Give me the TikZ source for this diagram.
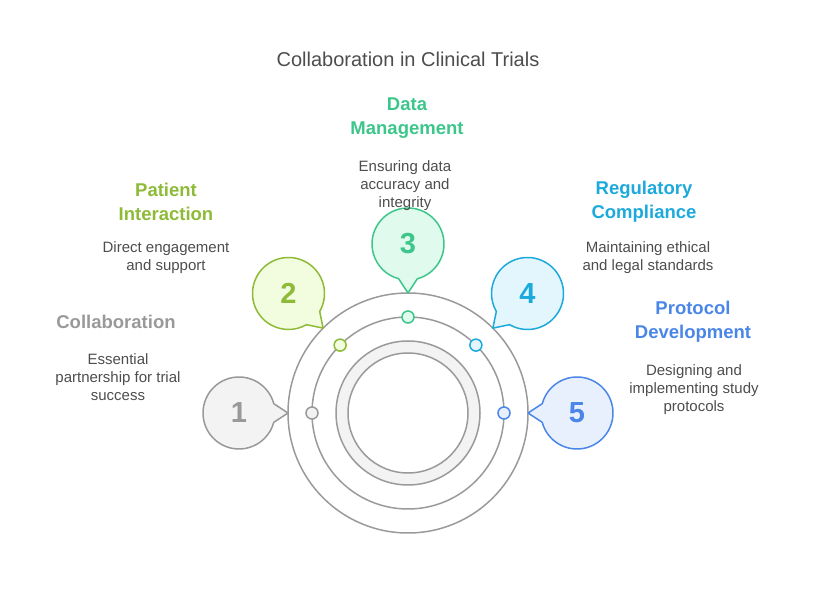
\documentclass[tikz,border=0pt]{standalone}
\usepackage{fontspec}
\setmainfont{Liberation Sans}
\usetikzlibrary{calc}
\definecolor{cgray}{HTML}{999999}
\definecolor{cgrayf}{HTML}{F3F3F3}
\definecolor{cyg}{HTML}{8DBB38}
\definecolor{cygf}{HTML}{F2FCDF}
\definecolor{cgr}{HTML}{3CC68A}
\definecolor{cgrf}{HTML}{E0FAEE}
\definecolor{ccy}{HTML}{1CA9DB}
\definecolor{ccyf}{HTML}{E3F6FD}
\definecolor{cbl}{HTML}{4A86E8}
\definecolor{cblf}{HTML}{E9F0FD}
\definecolor{ctext}{HTML}{4D4D4D}
\definecolor{cline}{HTML}{9A9A9A}
\tikzset{
  heading/.style={font=\fontsize{18.5}{24}\selectfont\bfseries, align=center, inner sep=0pt},
  desc/.style={font=\fontsize{15}{18}\selectfont, text=ctext, align=center, inner sep=0pt},
  ringline/.style={draw=cline, line width=1.5pt},
  numtext/.style={font=\fontsize{29}{29}\selectfont\bfseries, inner sep=0pt},
  dotnode/.style={circle, minimum size=12pt, inner sep=0pt, line width=1.5pt}
}
\begin{document}
\begin{tikzpicture}[x=1pt,y=1pt]
\useasboundingbox (0,0) rectangle (816,594);
\coordinate (C) at (408,181);
% title
\node[font=\fontsize{20}{24}\selectfont, text=ctext, inner sep=0pt] (title) at (408,535) {Collaboration in Clinical Trials};
% circles
\draw[ringline] (C) circle[radius=120];
\draw[ringline] (C) circle[radius=96];
\path[fill=cgrayf, even odd rule] (C) circle[radius=72] (C) circle[radius=60];
\draw[ringline] (C) circle[radius=72];
\draw[ringline] (C) circle[radius=60];
% bubbles
\foreach \a/\c/\f/\n in {180/cgray/cgrayf/1, 135/cyg/cygf/2, 90/cgr/cgrf/3, 45/ccy/ccyf/4, 0/cbl/cblf/5}{
  \path (C) ++(\a:169) coordinate (B\n);
  \path (C) ++(\a:120) coordinate (T\n);
  \draw[draw=\c, fill=\f, line width=1.5pt, line join=round]
    ($(B\n)+(\a+195:36)$) arc[start angle=\a+195, delta angle=330, radius=36] -- (T\n) -- cycle;
  \node[numtext, text=\c] (N\n) at (B\n) {\n};
  \node[dotnode, draw=\c, fill=\f] (D\n) at ($(C)+(\a:96)$) {};
}
% texts
\node[heading, text=cgr] (h3) at (407,476) {Data\\Management};
\node[desc] (d3) at (405,408) {Ensuring data\\accuracy and\\integrity};
\node[heading, text=cyg] (h2) at (166,392) {Patient\\Interaction};
\node[desc] (d2) at (166,336) {Direct engagement\\and support};
\node[heading, text=cgray] (h1) at (116,272) {Collaboration};
\node[desc] (d1) at (118,217) {Essential\\partnership for trial\\success};
\node[heading, text=ccy] (h4) at (644,392) {Regulatory\\Compliance};
\node[desc] (d4) at (648,336) {Maintaining ethical\\and legal standards};
\node[heading, text=cbl] (h5) at (693,272) {Protocol\\Development};
\node[desc] (d5) at (694,204) {Designing and\\implementing study\\protocols};
\end{tikzpicture}
\end{document}
